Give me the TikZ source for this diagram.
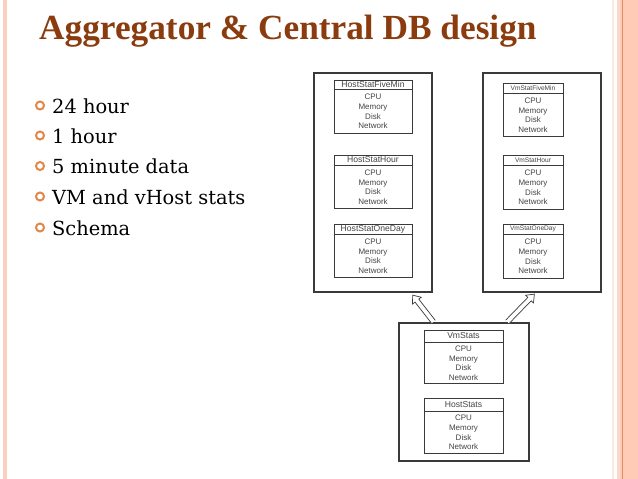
\documentclass[tikz,border=0pt]{standalone}
\usepackage{fontspec}
\setmainfont{DejaVu Serif}
\newfontfamily\titlefont{Liberation Serif}
\newfontfamily\diafont{Liberation Sans}
\usetikzlibrary{arrows.meta,calc,positioning}
\definecolor{titlebrown}{HTML}{8A3C0E}
\definecolor{bulletorange}{HTML}{E2874A}
\definecolor{stripA}{HTML}{F9CFC2}
\definecolor{stripB}{HTML}{FFCAB6}
\definecolor{stripC}{HTML}{FAD8CB}
\definecolor{stripLine}{HTML}{DD8E6A}
\definecolor{boxgray}{HTML}{3A3A3A}
\definecolor{txtgray}{HTML}{444444}
\begin{document}
\begin{tikzpicture}[x=1pt,y=-1pt,
  outerbox/.style={draw=boxgray,line width=1.2pt,minimum width=#1,inner sep=0pt},
  hdr/.style={draw=boxgray,line width=0.6pt,minimum width=#1,inner sep=0pt,
    font=\diafont\fontsize{8.6}{9}\selectfont,text=txtgray},
  smallhdr/.style={font=\diafont\fontsize{6.6}{7}\selectfont},
  bodybox/.style={draw=boxgray,line width=0.6pt,minimum width=#1,inner sep=0pt,
    align=center,font=\diafont\fontsize{8}{9.6}\selectfont,text=txtgray},
  bullettext/.style={anchor=base west,inner sep=0pt,font=\fontsize{19.4}{22}\selectfont},
  ring/.style={circle,draw=bulletorange,line width=2pt,minimum size=8pt,inner sep=0pt},
  hollowarrow/.style={draw=boxgray,line width=0.7pt,fill=white,line join=miter}
]
\useasboundingbox (0,0) rectangle (638,479);
\fill[white] (0,0) rectangle (638,479);
% border strips
\fill[stripA] (2.7,0) rectangle (7.3,479);
\fill[stripC!60] (611.5,0) rectangle (613.5,479);
\fill[stripC] (616.5,0) rectangle (620,479);
\fill[stripB] (620,0) rectangle (638,479);
\draw[stripLine,line width=1pt] (622.5,0) -- (622.5,479);

% title
\node[anchor=base west,inner sep=0pt,text=titlebrown,font=\titlefont\bfseries\fontsize{35.3}{40}\selectfont]
  (title) at (39,39) {Aggregator \& Central DB design};

% bullets
\foreach \t/\yy [count=\i] in {24 hour/113,1 hour/143,5 minute data/173.5,VM and vHost stats/204,Schema/235}{
  \node[ring] (b\i) at (40,\yy-7.5) {};
  \node[bullettext] (t\i) at (52,\yy) {\t};
}

% outer boxes
\node[outerbox=118pt,minimum height=219pt] (lbox) at (373,182.5) {};
\node[outerbox=118pt,minimum height=219pt] (rbox) at (542,182.5) {};
\node[outerbox=130pt,minimum height=138pt] (bot) at (464,392) {};

% left tables
\node[hdr=78pt,minimum height=9pt] (h1) at (373,84.5) {HostStatFiveMin};
\node[bodybox=78pt,minimum height=44pt,anchor=north] (h1b) at (h1.south) {CPU\\Memory\\Disk\\Network};
\node[hdr=78pt,minimum height=10pt] (h2) at (373,160) {HostStatHour};
\node[bodybox=78pt,minimum height=43pt,anchor=north] (h2b) at (h2.south) {CPU\\Memory\\Disk\\Network};
\node[hdr=78pt,minimum height=10pt] (h3) at (373,229) {HostStatOneDay};
\node[bodybox=78pt,minimum height=43pt,anchor=north] (h3b) at (h3.south) {CPU\\Memory\\Disk\\Network};

% right tables
\node[hdr=60pt,smallhdr,minimum height=10pt] (v1) at (533,88) {VmStatFiveMin};
\node[bodybox=60pt,minimum height=43pt,anchor=north] (v1b) at (v1.south) {CPU\\Memory\\Disk\\Network};
\node[hdr=60pt,smallhdr,minimum height=10pt] (v2) at (533,160) {VmStatHour};
\node[bodybox=60pt,minimum height=44pt,anchor=north] (v2b) at (v2.south) {CPU\\Memory\\Disk\\Network};
\node[hdr=60pt,smallhdr,minimum height=10pt] (v3) at (533,229) {VmStatOneDay};
\node[bodybox=60pt,minimum height=44pt,anchor=north] (v3b) at (v3.south) {CPU\\Memory\\Disk\\Network};

% bottom tables
\node[hdr=79pt,minimum height=12pt] (s1) at (463.5,336) {VmStats};
\node[bodybox=79pt,minimum height=41pt,anchor=north] (s1b) at (s1.south) {CPU\\Memory\\Disk\\Network};
\node[hdr=79pt,minimum height=13pt] (s2) at (463.5,404.5) {HostStats};
\node[bodybox=79pt,minimum height=42pt,anchor=north] (s2b) at (s2.south) {CPU\\Memory\\Disk\\Network};

% hollow block arrows
\coordinate (a1s) at ($(bot.north west)+(35,-0.6)$);
\coordinate (a1e) at ($(lbox.south east)+(-20,2.5)$);
\coordinate (a2s) at ($(bot.north west)+(109,-0.6)$);
\coordinate (a2e) at ($(rbox.south west)+(52,1.5)$);
\foreach \s/\e in {a1s/a1e,a2s/a2e}{
  \draw[hollowarrow] let \p1=($(\e)-(\s)$), \n1={atan2(\y1,\x1)}, \n2={veclen(\x1,\y1)} in
    [shift={(\s)}, rotate=\n1]
    (0,2.4) -- (\n2-7,2.4) -- (\n2-7,5.5) -- (\n2,0) -- (\n2-7,-5.5) -- (\n2-7,-2.4) -- (0,-2.4);
}
\end{tikzpicture}
\end{document}
